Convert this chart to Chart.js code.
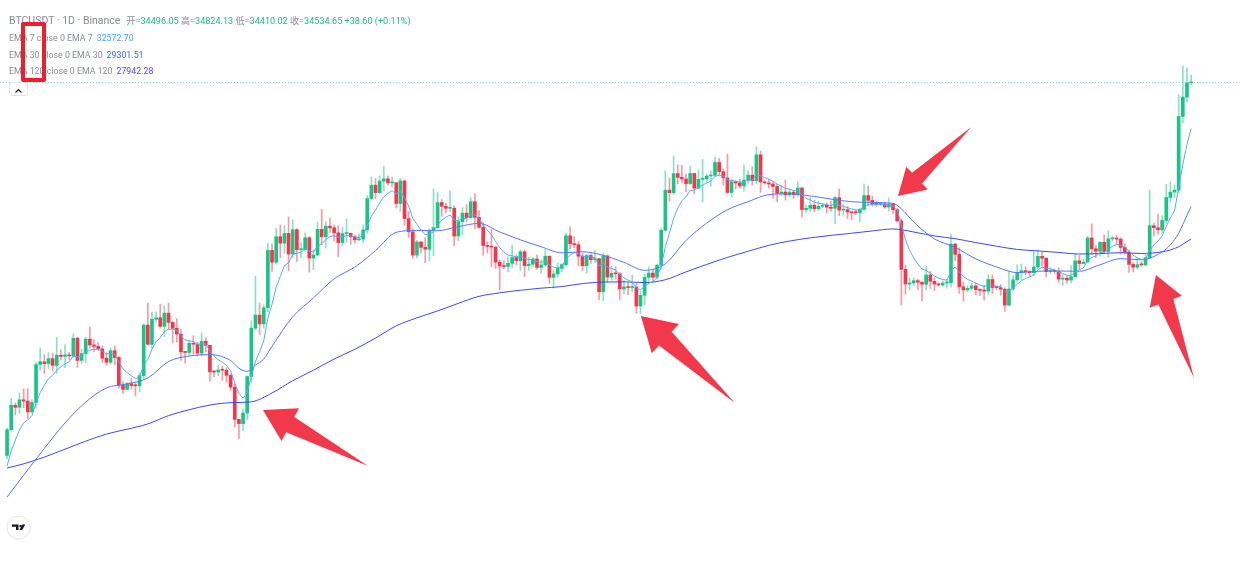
<!DOCTYPE html>
<html>
<head>
<meta charset="utf-8">
<title>BTCUSDT 1D</title>
<script src="https://cdn.jsdelivr.net/npm/chart.js@4.4.0/dist/chart.umd.min.js"></script>
<style>
  body { margin: 0; background: #fff; }
  #wrap { position: relative; width: 1254px; height: 570px; overflow: hidden; }
  #wrap canvas { position: absolute; left: 0; top: 0; }
  .row { position: absolute; left: 9px; white-space: nowrap; color: #8a8d97;
         font-family: Roboto, "Noto Sans CJK SC", sans-serif; }
  .row1 { top: 14px; font-size: 10.5px; line-height: 14px; }
  .row1 .ohlc { font-size: 9.1px; margin-left: 6px; }
  .row2 { top: 32px; font-size: 8.8px; line-height: 12px; }
  .row3 { top: 48.5px; font-size: 8.8px; line-height: 12px; }
  .row4 { top: 65px; font-size: 8.8px; line-height: 12px; }
  .up { color: #1fb883; }
  .v7 { color: #4aa0f6; margin-left: 4px; }
  .v30 { color: #3f5ef6; margin-left: 4px; }
  .v120 { color: #5a45f4; margin-left: 4px; }
  #box { position: absolute; left: 21px; top: 22px; width: 17px; height: 52px;
         border: 4px solid #ec1f2e; border-radius: 2px; }
  #collapse { position: absolute; left: 9px; top: 82px; width: 17px; height: 12px;
              border: 1px solid #e0e3eb; border-radius: 3px; background: #fff; }
  #logo { position: absolute; left: 6px; top: 515px; }
</style>
</head>
<body>
<div id="wrap">
  <canvas id="chart" width="1254" height="570"></canvas>
  <div class="row row1">BTCUSDT · 1D · Binance<span class="ohlc">开<span class="up">=34496.05</span> 高<span class="up">=34824.13</span> 低<span class="up">=34410.02</span> 收<span class="up">=34534.65 +38.60 (+0.11%)</span></span></div>
  <div class="row row2">EMA 7 close 0 EMA 7<span class="v7">32572.70</span></div>
  <div class="row row3">EMA 30 close 0 EMA 30<span class="v30">29301.51</span></div>
  <div class="row row4">EMA 120 close 0 EMA 120<span class="v120">27942.28</span></div>
  <div id="box"></div>
  <div id="collapse"><svg width="17" height="12"><polyline points="5.5,7.5 8.5,4.5 11.5,7.5" fill="none" stroke="#131722" stroke-width="1.2"/></svg></div>
  <svg id="logo" width="26" height="26">
    <circle cx="12.5" cy="12.5" r="11.5" fill="#fff" stroke="#e3e5ea" stroke-width="1"/>
    <path d="M6 9.5h6.5v5.5h-2.5v-3.2h-4z" fill="#131722"/>
    <circle cx="14.6" cy="11" r="1.3" fill="#131722"/>
    <path d="M16.5 9.5h2.8l-3.2 5.5h-2.8z" fill="#131722"/>
  </svg>
</div>

<script>
// BTCUSDT daily candles, 2023-01-13 .. 2023-10-26
const startDate = Date.UTC(2023, 0, 13);

const open = [
  18847,19930,20955,20871,21185,21132,20677,21071,22667,22783,22707,22916,22633,23060,23009,23074,23031,23774,22840,
  23125,23733,23490,23431,23326,22932,22763,23249,22963,21797,21625,21862,21783,21773,22199,24324,23517,24569,24631,24271,24827,24436,24188,23947,23198,23175,23561,23522,
  23147,23646,23475,22362,22354,22435,22429,22216,21718,20363,20187,20632,22163,24197,24746,24375,25052,27462,26965,28038,27767,28175,27307,28333,27493,27494,27994,27139,27268,28348,28033,
  28478,28411,28199,27790,28168,28175,28033,27906,27938,28323,29637,30200,29888,30373,30466,30295,30304,29430,30380,28797,28243,27262,27816,27590,27510,28300,28415,29473,29311,29230,
  29233,28068,28669,29026,28838,29506,28848,28430,27668,27628,27598,26969,26805,26785,26918,27162,27032,27405,26821,26880,27102,26747,26849,27219,26329,26473,26705,26864,28075,27745,27702,
  27219,26819,27249,27069,27115,25728,27230,26339,26498,26477,25841,25925,25901,25920,25124,25576,26327,26510,26336,26840,28307,29993,29885,30688,30528,30462,30267,30692,30077,30446,
  30472,30585,30617,31156,30767,30505,29895,30346,30292,30171,30414,30620,30391,31476,30334,30295,30249,30145,29856,29913,29792,29908,29800,30083,29176,29228,29354,29210,29316,29357,29275,
  29230,29675,29152,29176,29074,29042,29041,29180,29765,29561,29429,29397,29415,29283,29408,29170,28701,26664,26049,26096,26189,26124,26040,26431,26163,26047,26008,26089,26106,27727,27297,
  25931,25800,25869,25969,25812,25779,25753,26240,25905,25895,25832,25162,25840,26228,26539,26608,26568,26527,26762,27211,27132,26567,26580,26579,26256,26298,26217,26352,27021,26911,
  26967,27983,27530,27429,27799,27416,27947,27967,27936,27584,27391,26873,26756,26862,26852,27154,28500,28415,28328,28719,29682,29909,29993,33087,33902,34496.05
];
const high = [
  19995,21258,21050,21473,21650,21650,21194,22755,23372,23078,23165,23150,23816,23290,23500,23180,23960,23812,23320,
  23812,24255,23715,23587,23443,23162,23364,23452,23011,21938,21906,22090,21890,22319,24380,25250,24873,24877,25192,25121,25250,24480,24599,24132,23218,23689,23880,23600,
  24000,23780,23479,22410,22622,22603,22527,22271,21835,20367,20792,22185,24500,26386,25250,25170,27757,27725,28390,28528,28500,28868,28749,28379,27791,28194,28044,27494,28650,29184,28660,
  28821,28531,28500,28444,28775,28190,28100,28154,28530,29770,30550,30486,30595,31000,30595,30549,30316,30485,30413,29088,28374,27882,27816,28000,28371,30036,29890,29599,29448,29969,
  29337,28879,29266,29379,29677,29843,29138,28631,27818,28336,27630,27055,27030,27200,27670,27279,27495,27485,27183,27155,27277,27060,27495,27219,26631,26932,26895,28193,28447,28045,27834,
  27350,27300,27317,27455,27130,27355,27267,26810,26783,26530,26209,26100,26433,26098,25750,26474,26775,26684,26889,28402,30800,30500,31431,31060,31046,30662,31006,30703,30840,31282,
  30661,30792,31380,31330,30877,31500,30449,30380,30445,31045,30800,30985,31814,31630,30390,30459,30337,30233,30184,30417,30055,29990,30350,30099,29376,29690,29567,29530,29415,29450,29530,
  29737,30047,29409,29313,29111,29160,29244,30244,30160,29738,29539,29474,29469,29660,29450,29222,28786,26838,26296,26296,26258,26139,26800,26575,26314,26107,26176,26224,28142,27760,27575,
  26125,25982,26100,26087,25858,26000,26444,26430,25945,26027,25892,26567,26400,26860,26888,26777,26626,27409,27488,27391,27159,26743,26637,26735,26430,26389,26820,27308,27244,27094,
  28065,28580,27679,27830,28120,28295,28040,28100,27990,27735,27478,26945,27130,26989,27293,30000,28613,28985,28921,30234,30347,30200,34000,35198,35133,34824.13
];
const low = [
  18715,19880,20551,20610,20856,20407,20659,20862,22422,22292,22500,22400,22300,22850,22532,22880,22978,22548,22715,
  22747,23363,23200,23256,22750,22628,22680,22665,21688,21451,21599,21630,21351,21532,22047,23505,23339,24450,24192,23841,24149,23574,23608,22841,22722,23069,23106,23028,
  23021,23195,21971,22160,22198,22000,21927,21580,20042,19549,19886,20365,21918,24120,23930,24192,24890,26578,26880,27156,27338,26601,27155,27000,27156,27420,26552,26650,27241,27696,27555,
  28220,27862,27200,27662,27805,27711,27766,27865,27800,28170,29590,29637,29854,29966,30202,30120,29240,29100,28520,28010,27125,27140,27350,26942,27020,27235,28378,28891,29031,29079,
  27666,27872,28110,28663,28800,28374,28395,27262,27353,26777,26702,25811,26692,26560,26740,26852,26605,26361,26630,26784,26666,26500,26798,26080,25871,26335,26557,26803,27524,27566,26815,
  26605,26505,26920,26951,25388,25351,26115,26206,26251,25400,25634,25602,25714,24820,24800,25171,26156,26174,26256,26652,28259,29525,29800,30250,30300,29919,30236,29840,30036,29500,
  30320,30155,30570,30636,30202,29850,29701,30038,30070,29950,30276,30203,30268,29900,30249,30080,29659,29500,29767,29570,29720,29640,29730,28861,29047,29096,29083,29125,29255,29033,29101,
  28585,28920,28959,28800,28747,28963,28657,29151,29350,29320,29320,29355,29234,29108,29019,28650,25166,25620,25801,26000,25812,25350,25797,25864,25777,25977,25960,25880,25922,27025,25655,
  25333,25717,25800,25600,25570,25370,25600,25650,25800,25583,24901,25133,25764,26126,26224,26445,26382,26380,26675,26800,26361,26468,26500,26115,25990,26090,26100,26340,26665,26886,
  26954,27280,27160,27215,27332,27175,27850,27700,27300,27300,26538,26560,26685,26789,26808,27112,28069,28150,28177,28600,29476,29667,29883,32800,33700,34410.02
];
const close = [
  19930,20955,20871,21185,21132,20677,21071,22667,22783,22707,22916,22633,23060,23009,23074,23031,23774,22840,23125,
  23733,23490,23431,23326,22932,22763,23249,22963,21797,21625,21862,21783,21773,22199,24324,23517,24569,24631,24271,24827,24436,24188,23947,23198,23175,23561,23522,23147,
  23646,23475,22362,22354,22435,22429,22216,21718,20363,20187,20632,22163,24197,24746,24375,25052,27462,26965,28038,27767,28175,27307,28333,27493,27494,27994,27139,27268,28348,28033,28478,
  28411,28199,27790,28168,28175,28033,27906,27938,28323,29637,30200,29888,30373,30466,30295,30304,29430,30380,28797,28243,27262,27816,27590,27510,28300,28415,29473,29311,29230,29233,
  28068,28669,29026,28838,29506,28848,28430,27668,27628,27598,26969,26805,26785,26918,27162,27032,27405,26821,26880,27102,26747,26849,27219,26329,26473,26705,26864,28075,27745,27702,27219,
  26819,27249,27069,27115,25728,27230,26339,26498,26477,25841,25925,25901,25920,25124,25576,26327,26510,26336,26840,28307,29993,29885,30688,30528,30462,30267,30692,30077,30446,30472,
  30585,30617,31156,30767,30505,29895,30346,30292,30171,30414,30620,30391,31476,30334,30295,30249,30145,29856,29913,29792,29908,29800,30083,29176,29228,29354,29210,29316,29357,29275,29230,
  29675,29152,29176,29074,29042,29041,29180,29765,29561,29429,29397,29415,29283,29408,29170,28701,26664,26049,26096,26189,26124,26040,26431,26163,26047,26008,26089,26106,27727,27297,25931,
  25800,25869,25969,25812,25779,25753,26240,25905,25895,25832,25162,25840,26228,26539,26608,26568,26527,26762,27211,27132,26567,26580,26579,26256,26298,26217,26352,27021,26911,26967,
  27983,27530,27429,27799,27416,27947,27967,27936,27584,27391,26873,26756,26862,26852,27154,28500,28415,28328,28719,29682,29909,29993,33087,33902,34496.05,34534.65
];

// EMA 7, one value per candle
const ema7 = [
  18400,19039,19497,19919,20222,20336,20520,21057,21489,21794,22074,22214,22426,22572,22698,22781,23029,22982,23018,
  23197,23270,23310,23314,23218,23104,23140,23096,22771,22484,22328,22192,22087,22115,22667,22879,23302,23634,23793,24052,24148,24158,24105,23878,23702,23667,23631,23510,
  23544,23527,23236,23016,22871,22761,22625,22398,21889,21463,21255,21482,22161,22807,23199,23662,24612,25200,25910,26374,26824,26945,27292,27342,27380,27534,27435,27393,27632,27732,27919,
  28042,28081,28008,28048,28080,28068,28027,28005,28085,28473,28905,29151,29457,29709,29856,29968,29833,29970,29677,29318,28804,28557,28315,28114,28161,28225,28537,28731,28856,28950,
  28729,28714,28792,28804,28980,28947,28818,28530,28304,28127,27837,27579,27380,27264,27238,27186,27241,27136,27072,27080,26997,26960,27025,26851,26756,26743,26773,27099,27261,27371,27333,
  27204,27215,27178,27162,26803,26910,26767,26700,26644,26443,26313,26210,26137,25884,25807,25937,26080,26144,26318,26815,27610,28179,28806,29237,29543,29724,29966,29994,30107,30198,
  30295,30376,30571,30620,30591,30417,30399,30372,30322,30345,30414,30408,30675,30590,30516,30449,30373,30244,30161,30069,30029,29972,30000,29794,29652,29577,29485,29443,29421,29384,29345,
  29428,29359,29313,29253,29200,29160,29165,29315,29377,29390,29392,29398,29369,29379,29327,29170,28543,27919,27463,27144,26889,26677,26615,26502,26388,26293,26242,26208,26588,26765,26556,
  26367,26242,26174,26083,26007,25943,26017,25989,25965,25932,25739,25764,25880,26045,26186,26282,26343,26448,26639,26762,26713,26680,26655,26555,26491,26422,26404,26558,26646,26726,
  27040,27163,27230,27372,27383,27524,27635,27710,27678,27606,27423,27256,27157,27081,27099,27449,27691,27850,28067,28471,28831,29122,30113,31060,31919,32572.70
];

// EMA 30 and EMA 120, [candle index, value] read every few candles
const ema30 = [
  [0,17104],[4,18020],[9,19141],[14,20216],[19,21089],[24,21683],[29,21857],[34,22101],[39,22793],[44,23025],
  [49,23083],[54,22835],[56,22515],[58,22379],[60,22641],[62,22901],[64,23438],[69,24672],[74,25466],[79,26266],
  [84,26761],[89,27450],[94,28221],[99,28300],[104,28288],[109,28462],[114,28594],[119,28237],[124,27904],[129,27614],
  [134,27360],[139,27403],[144,27254],[149,26960],[154,26623],[159,26899],[164,27880],[169,28608],[174,29168],[179,29508],
  [184,29803],[189,29837],[194,29750],[199,29616],[204,29505],[209,29474],[214,29435],[216,29212],[219,28650],[224,27944],
  [229,27589],[234,27104],[239,26767],[244,26527],[249,26586],[254,26596],[259,26586],[264,26857],[269,27115],[274,27067],
  [279,27394],[281,27695],[283,28181],[284,28550],[285,28934],[286,29301.51]
];
const ema120 = [
  [0,18322],[4,18497],[9,18780],[14,19112],[19,19448],[24,19747],[29,19951],[34,20172],[39,20522],[44,20769],
  [49,20966],[54,21066],[59,21102],[64,21472],[69,21989],[74,22429],[79,22899],[84,23308],[89,23780],[94,24291],
  [99,24629],[104,24919],[109,25237],[114,25532],[119,25677],[124,25788],[129,25875],[134,25942],[139,26068],[144,26133],
  [149,26140],[154,26110],[159,26229],[164,26560],[169,26871],[174,27168],[179,27424],[184,27674],[189,27854],[194,27988],
  [199,28091],[204,28182],[209,28279],[214,28363],[219,28234],[224,28068],[229,27954],[234,27788],[239,27638],[244,27501],
  [249,27440],[254,27375],[259,27310],[264,27329],[269,27364],[274,27331],[279,27402],[281,27481],[283,27615],[284,27719],
  [285,27831],[286,27942.28]
];

// drawn arrows, anchored at [candle index, price]
const arrows = [
  { tip: [61.8, 20758], tail: [87.2, 18406] },
  { tip: [153.1, 24706], tail: [175.8, 21052] },
  { tip: [215.2, 29746], tail: [232.9, 32644] },
  { tip: [277.5, 26428], tail: [286.7, 22102] }
];

const UP = '#18c585';
const DOWN = '#f2364c';
const UP_WICK = 'rgba(24,197,133,0.5)';
const DOWN_WICK = 'rgba(242,54,76,0.5)';

const dates = close.map((_, i) => new Date(startDate + i * 86400000).toISOString().slice(0, 10));
const labels = dates.concat(new Array(13).fill(''));

const isUp = close.map((c, i) => c >= open[i]);

function spread(points) {
  const arr = new Array(labels.length).fill(null);
  points.forEach(([i, v]) => { arr[i] = v; });
  return arr;
}

// last price dotted line
const priceLine = {
  id: 'priceLine',
  beforeDatasetsDraw(chart) {
    const ctx = chart.ctx;
    const y = Math.round(chart.scales.y.getPixelForValue(close[close.length - 1])) + 0.5;
    ctx.save();
    ctx.strokeStyle = 'rgba(24,197,133,0.55)';
    ctx.lineWidth = 1;
    ctx.setLineDash([1, 2]);
    ctx.beginPath();
    ctx.moveTo(0, y);
    ctx.lineTo(chart.width - 16, y);
    ctx.stroke();
    ctx.restore();
  }
};

// red arrow drawings
const arrowPlugin = {
  id: 'arrowPlugin',
  afterDatasetsDraw(chart) {
    const ctx = chart.ctx;
    const xs = chart.scales.x, ys = chart.scales.y;
    ctx.save();
    ctx.fillStyle = '#f2394b';
    arrows.forEach(a => {
      const x1 = xs.getPixelForValue(a.tip[0]), y1 = ys.getPixelForValue(a.tip[1]);
      const x2 = xs.getPixelForValue(a.tail[0]), y2 = ys.getPixelForValue(a.tail[1]);
      const dx = x2 - x1, dy = y2 - y1;
      const len = Math.hypot(dx, dy);
      const ux = dx / len, uy = dy / len, nx = -uy, ny = ux;
      const head = len * 0.26;
      const p = (along, across) => [x1 + ux * along + nx * across, y1 + uy * along + ny * across];
      const pts = [p(0, 0), p(head, -head * 0.6), p(head, -head * 0.28), p(len, 0), p(head, head * 0.28), p(head, head * 0.6)];
      ctx.beginPath();
      pts.forEach(([x, y], i) => i ? ctx.lineTo(x, y) : ctx.moveTo(x, y));
      ctx.closePath();
      ctx.fill();
    });
    ctx.restore();
  }
};

const ctx = document.getElementById('chart').getContext('2d');
new Chart(ctx, {
  type: 'bar',
  data: {
    labels: labels,
    datasets: [
      {
        type: 'line',
        label: 'EMA 7',
        data: ema7,
        borderColor: '#5aa9f6',
        borderWidth: 1,
        pointRadius: 0,
        tension: 0,
        order: 0
      },
      {
        type: 'line',
        label: 'EMA 30',
        data: spread(ema30),
        borderColor: '#5775f4',
        borderWidth: 1,
        pointRadius: 0,
        spanGaps: true,
        cubicInterpolationMode: 'monotone',
        order: 0
      },
      {
        type: 'line',
        label: 'EMA 120',
        data: spread(ema120),
        borderColor: '#3f47ee',
        borderWidth: 1,
        pointRadius: 0,
        spanGaps: true,
        cubicInterpolationMode: 'monotone',
        order: 0
      },
      {
        label: 'body',
        data: close.map((c, i) => [open[i], c]),
        backgroundColor: isUp.map(u => u ? UP : DOWN),
        barThickness: 3,
        minBarLength: 1,
        grouped: false,
        order: 1
      },
      {
        label: 'wick',
        data: close.map((c, i) => [low[i], high[i]]),
        backgroundColor: isUp.map(u => u ? UP_WICK : DOWN_WICK),
        barThickness: 1,
        grouped: false,
        order: 2
      }
    ]
  },
  options: {
    responsive: false,
    animation: false,
    layout: { padding: { left: 5, right: 7, top: 0, bottom: 0 } },
    scales: {
      x: { display: false, offset: true },
      y: { display: false, min: 14038, max: 37978 }
    },
    plugins: {
      legend: { display: false },
      tooltip: { enabled: false }
    }
  },
  plugins: [priceLine, arrowPlugin]
});
</script>
</body>
</html>
